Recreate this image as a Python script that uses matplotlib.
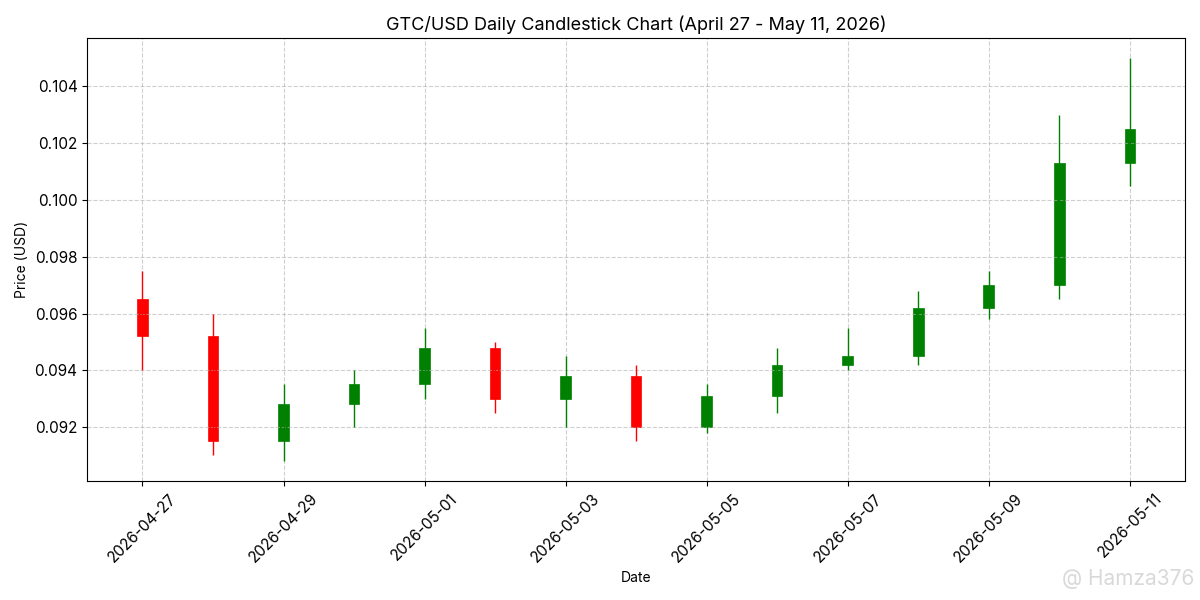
import matplotlib
matplotlib.use("Agg")
import matplotlib.pyplot as plt
import matplotlib.dates as mdates
import numpy as np
import pandas as pd

plt.rcParams['font.family'] = ['Inter', 'DejaVu Sans']

# daily OHLC
dates = pd.date_range("2026-04-27", "2026-05-11", freq="D")
opens = [0.0965, 0.0952, 0.0915, 0.0928, 0.0935, 0.0948, 0.0930, 0.0938,
         0.0920, 0.0931, 0.0942, 0.0945, 0.0962, 0.0970, 0.1013]
highs = [0.0975, 0.0960, 0.0935, 0.0940, 0.0955, 0.0950, 0.0945, 0.0942,
         0.0935, 0.0948, 0.0955, 0.0968, 0.0975, 0.1030, 0.1050]
lows = [0.0940, 0.0910, 0.0908, 0.0920, 0.0930, 0.0925, 0.0920, 0.0915,
        0.0918, 0.0925, 0.0940, 0.0942, 0.0958, 0.0965, 0.1005]
closes = [0.0952, 0.0915, 0.0928, 0.0935, 0.0948, 0.0930, 0.0938, 0.0920,
          0.0931, 0.0942, 0.0945, 0.0962, 0.0970, 0.1013, 0.1025]

fig, ax = plt.subplots(figsize=(12, 6), dpi=100)

x = mdates.date2num(dates)
width = 0.15
for xi, o, h, l, c in zip(x, opens, highs, lows, closes):
    color = "green" if c >= o else "red"
    ax.vlines(xi, l, h, color=color, linewidth=1)
    rect = plt.Rectangle((xi - width / 2, min(o, c)), width, abs(c - o),
                         facecolor=color, edgecolor=color, linewidth=0.5)
    ax.add_patch(rect)

ax.set_xticks(x[::2])
ax.xaxis.set_major_formatter(mdates.DateFormatter("%Y-%m-%d"))
ax.tick_params(labelsize=11)
plt.setp(ax.get_xticklabels(), rotation=45)

ax.set_title("GTC/USD Daily Candlestick Chart (April 27 - May 11, 2026)", fontsize=13)
ax.set_xlabel("Date")
ax.set_ylabel("Price (USD)")
ax.grid(True, linestyle="--", alpha=0.6)

fig.tight_layout()
fig.text(0.995, 0.035, "@ Hamza376", ha="right", va="center",
         fontsize=15, color="#d9d9d9")
fig.savefig("out.png")
